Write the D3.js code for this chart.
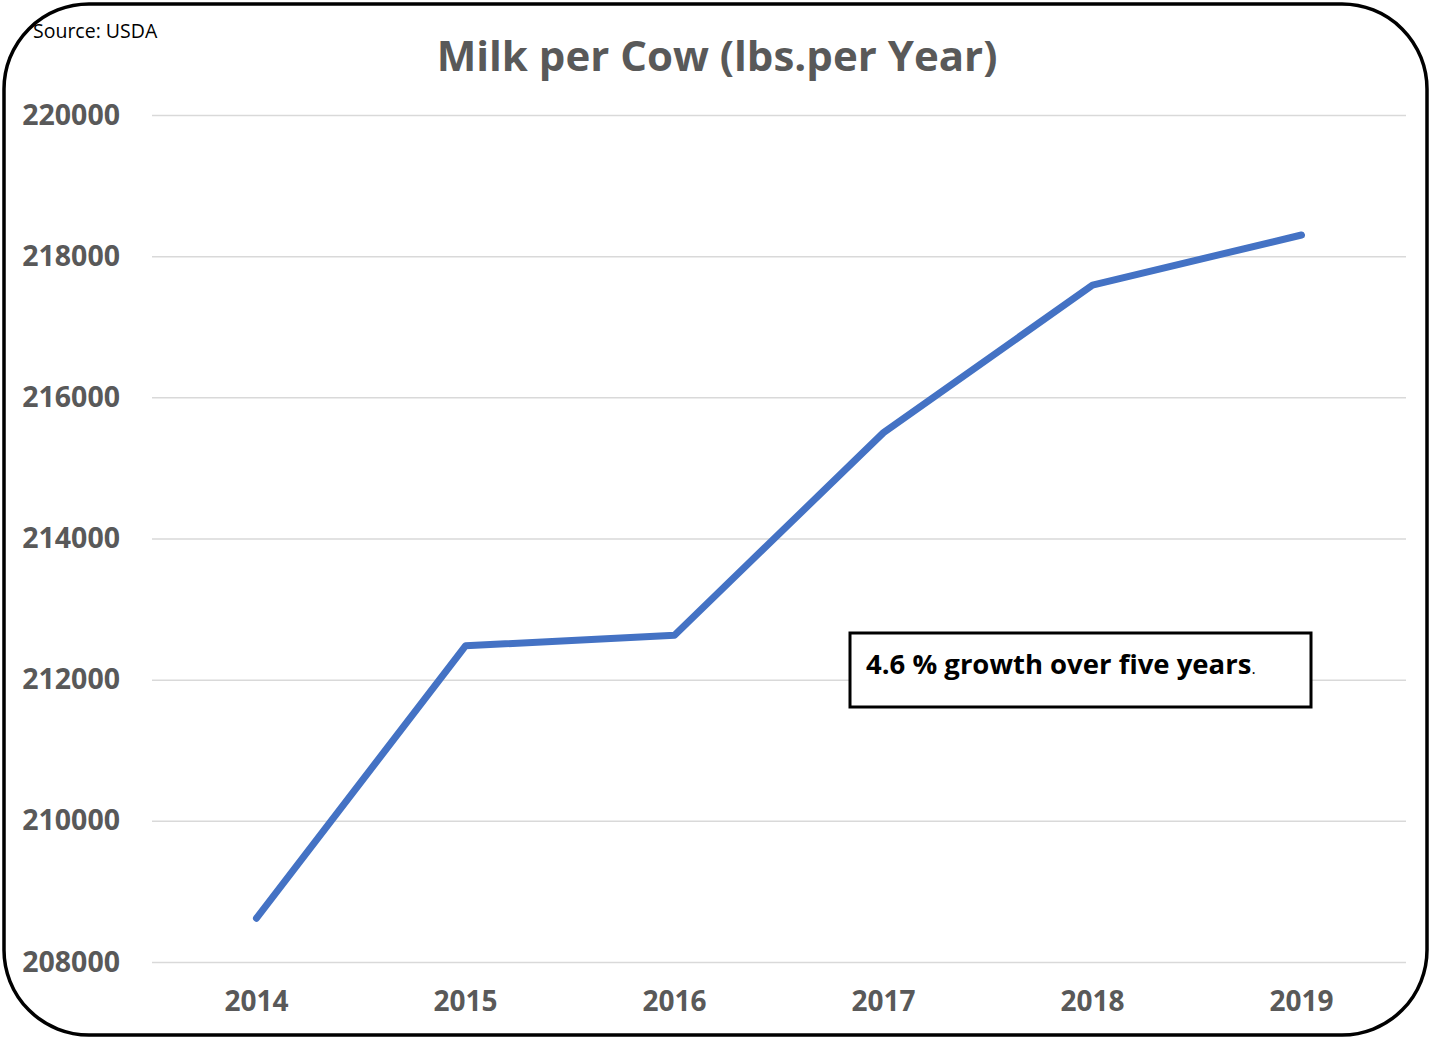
<!DOCTYPE html>
<html>
<head>
<meta charset="utf-8">
<script src="https://cdn.jsdelivr.net/npm/d3@7"></script>
<style>
  body { margin: 0; background: #fff; }
  svg { display: block; }
</style>
</head>
<body>
<svg id="chart"></svg>
<script>
// chart values
var years = ["2014", "2015", "2016", "2017", "2018", "2019"];
var milkPerCow = [208620, 212480, 212630, 215500, 217590, 218300];
var yTicks = [208000, 210000, 212000, 214000, 216000, 218000, 220000];

var W = 1431, H = 1039;
var margin = {top: 115, right: 25, bottom: 77, left: 152};
var font = "'Open Sans', Lato, sans-serif";

var svg = d3.select("#chart")
    .attr("width", W)
    .attr("height", H);

// rounded frame round the whole chart
svg.append("rect")
    .attr("x", 4).attr("y", 4)
    .attr("width", W - 8).attr("height", H - 8)
    .attr("rx", 85).attr("ry", 85)
    .attr("fill", "#fff")
    .attr("stroke", "#000")
    .attr("stroke-width", 3.5);

var x = d3.scaleBand()
    .domain(years)
    .range([margin.left, W - margin.right]);

var y = d3.scaleLinear()
    .domain([208000, 220000])
    .range([H - margin.bottom, margin.top]);

// gridlines
svg.append("g")
    .attr("class", "grid")
    .attr("transform", "translate(" + margin.left + ",0)")
    .call(d3.axisLeft(y)
        .tickValues(yTicks)
        .tickSize(-(W - margin.right - margin.left))
        .tickFormat(""))
    .call(function(g) { g.select(".domain").remove(); })
    .selectAll("line")
    .attr("stroke", "#d9d9d9")
    .attr("stroke-width", 1.5);

// y labels
var yAxis = svg.append("g")
    .attr("transform", "translate(" + (margin.left - 32) + ",0)")
    .call(d3.axisLeft(y).tickValues(yTicks).tickSize(0).tickPadding(0).tickFormat(d3.format("d")));
yAxis.select(".domain").remove();
yAxis.selectAll("text")
    .attr("fill", "#595959")
    .style("font-family", font)
    .style("font-weight", "bold")
    .style("font-size", "28.5px");

// x labels
var xAxis = svg.append("g")
    .attr("transform", "translate(0," + (H - margin.bottom) + ")")
    .call(d3.axisBottom(x).tickSize(0).tickPadding(29));
xAxis.select(".domain").remove();
xAxis.selectAll("text")
    .attr("fill", "#595959")
    .style("font-family", font)
    .style("font-weight", "bold")
    .style("font-size", "28px");

// the line
var line = d3.line()
    .x(function(d, i) { return x(years[i]) + x.bandwidth() / 2; })
    .y(function(d) { return y(d); });

svg.append("path")
    .datum(milkPerCow)
    .attr("d", line)
    .attr("fill", "none")
    .attr("stroke", "#4472c4")
    .attr("stroke-width", 7)
    .attr("stroke-linecap", "round")
    .attr("stroke-linejoin", "round");

// title
svg.append("text")
    .attr("x", 717).attr("y", 71)
    .attr("text-anchor", "middle")
    .attr("fill", "#595959")
    .style("font-family", font)
    .style("font-weight", "bold")
    .style("font-size", "42px")
    .text("Milk per Cow (lbs.per Year)");

svg.append("text")
    .attr("x", 33).attr("y", 38)
    .attr("fill", "#000")
    .style("font-family", font)
    .style("font-size", "19.5px")
    .text("Source: USDA");

// annotation box
svg.append("rect")
    .attr("x", 850).attr("y", 633)
    .attr("width", 461).attr("height", 74)
    .attr("fill", "#fff")
    .attr("stroke", "#000")
    .attr("stroke-width", 3);

var note = svg.append("text")
    .attr("x", 866).attr("y", 674)
    .attr("fill", "#000")
    .style("font-family", font)
    .style("font-weight", "bold")
    .style("font-size", "27.5px");
note.append("tspan").text("4.6 % growth over five years");
note.append("tspan").style("font-weight", "normal").style("font-size", "16px").text(".");
</script>
</body>
</html>
